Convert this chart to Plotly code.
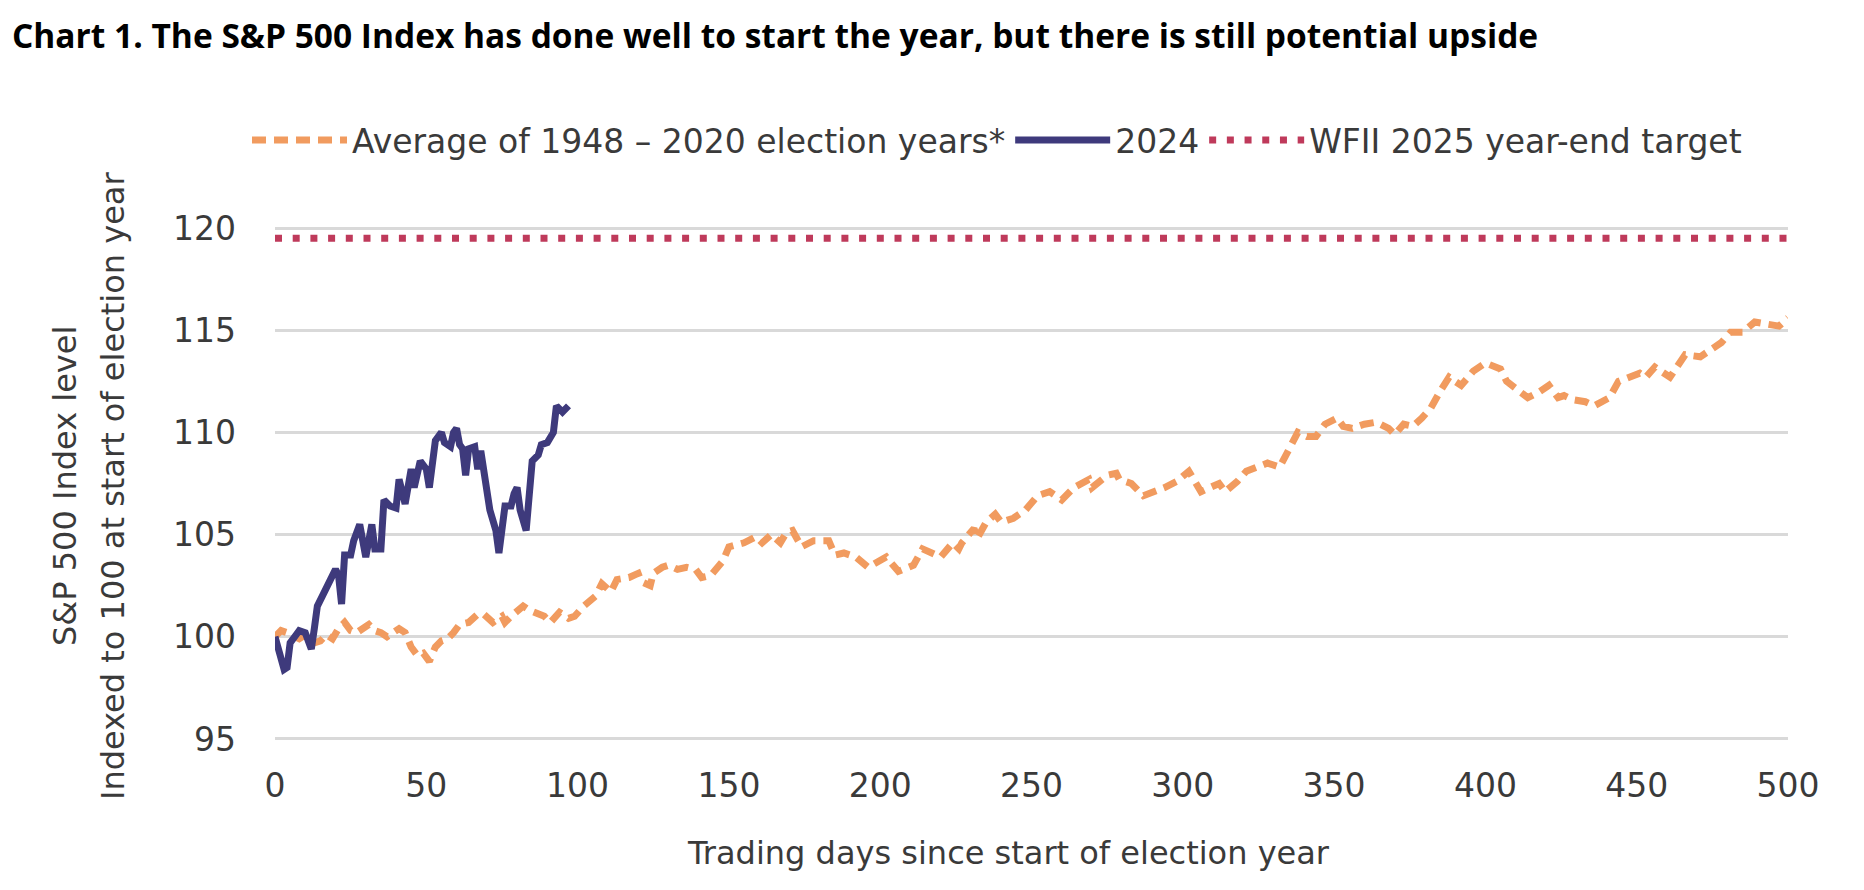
import plotly.graph_objects as go

# average of 1948-2020 election years (trading day, index level)
avg_days = [0, 2, 4, 6, 8, 10, 13, 15, 17, 19, 21, 23, 25, 27, 29, 31, 33, 35, 37, 39,
            41, 43, 45, 47, 49, 51, 53, 55, 57, 59, 61, 64, 67, 69, 72, 75, 76, 78, 82, 84,
            86, 89, 91, 94, 97, 99, 102, 106, 108, 111, 113, 117, 120, 121, 124, 125, 128, 130, 133, 136,
            139, 141, 144, 148, 150, 155, 159, 161, 164, 167, 169, 171, 174, 178, 183, 185, 188, 192, 196, 199,
            202, 206, 211, 214, 218, 220, 224, 226, 227, 231, 232, 235, 238, 240, 244, 248, 252, 256, 260, 264,
            269, 270, 275, 278, 279, 283, 287, 291, 294, 298, 302, 306, 309, 312, 314, 318, 321, 325, 328, 332,
            335, 338, 341, 344, 347, 351, 353, 356, 360, 364, 368, 370, 373, 376, 379, 382, 385, 388, 392, 396,
            400, 405, 407, 411, 414, 418, 421, 424, 426, 429, 433, 436, 441, 444, 448, 451, 453, 456, 461, 463,
            466, 471, 475, 478, 481, 485, 489, 494, 497, 500]
avg_level = [100.0, 100.3, 100.2, 100.0, 99.9, 100.1, 99.7, 99.8, 100.1, 99.9, 100.4, 100.7, 100.3, 100.2, 100.4, 100.6, 100.3, 100.2, 100.0, 100.2,
             100.4, 100.2, 99.5, 99.1, 99.2, 98.8, 99.5, 99.8, 99.9, 100.2, 100.6, 100.7, 101.1, 101.1, 100.7, 101.0, 100.7, 101.0, 101.5, 101.3,
             101.2, 101.0, 100.7, 101.2, 100.9, 101.0, 101.5, 102.0, 102.6, 102.2, 102.8, 102.9, 103.1, 102.7, 102.5, 103.1, 103.4, 103.5, 103.3, 103.4,
             103.3, 102.9, 103.0, 103.7, 104.4, 104.6, 104.9, 104.6, 105.0, 104.6, 105.1, 105.2, 104.4, 104.7, 104.7, 104.0, 104.1, 103.9, 103.4, 103.7,
             103.9, 103.2, 103.5, 104.3, 104.0, 103.9, 104.6, 104.3, 104.6, 105.3, 104.8, 105.6, 106.0, 105.6, 105.8, 106.2, 106.9, 107.1, 106.7, 107.3,
             107.7, 107.3, 107.9, 108.0, 107.7, 107.5, 106.9, 107.1, 107.3, 107.6, 108.1, 107.1, 107.3, 107.5, 107.1, 107.6, 108.1, 108.3, 108.5, 108.3,
             109.1, 110.0, 109.8, 109.8, 110.4, 110.7, 110.3, 110.2, 110.4, 110.5, 110.2, 109.9, 110.4, 110.3, 110.7, 111.2, 112.0, 112.7, 112.3, 113.0,
             113.4, 113.1, 112.5, 112.1, 111.7, 112.0, 112.3, 111.7, 111.8, 111.6, 111.5, 111.3, 111.7, 112.5, 112.7, 112.9, 112.7, 113.2, 112.7, 113.1,
             113.8, 113.7, 114.1, 114.4, 114.9, 114.9, 115.4, 115.3, 115.2, 115.6]

# 2024
y2024_days = [0, 1, 2, 3, 4, 5, 7, 8, 10, 11, 12, 13, 14, 16, 18, 20, 21, 22, 23, 25,
              26, 28, 30, 32, 33, 35, 36, 38, 40, 41, 43, 45, 46, 48, 50, 51, 53, 55, 56, 58,
              59, 60, 61, 62, 63, 64, 66, 67, 68, 71, 73, 74, 76, 78, 79, 80, 81, 83, 85, 87,
              88, 90, 92, 93, 95, 97]
y2024_level = [100.0, 99.5, 98.8, 98.4, 98.5, 99.7, 100.1, 100.3, 100.2, 99.8, 99.4, 100.4, 101.5, 102.1, 102.7, 103.3, 103.0, 101.6, 104.0, 104.0,
               104.7, 105.5, 103.9, 105.5, 104.3, 104.3, 106.7, 106.4, 106.3, 107.7, 106.5, 108.2, 107.3, 108.6, 108.2, 107.3, 109.6, 110.0, 109.5, 109.3,
               110.0, 110.2, 109.4, 109.2, 107.9, 109.2, 109.3, 108.2, 109.1, 106.2, 105.2, 104.1, 106.4, 106.4, 107.0, 107.3, 106.2, 105.2, 108.6, 108.9,
               109.4, 109.5, 110.0, 111.3, 111.0, 111.3]

# WFII 2025 year-end target
target_days = [0, 500]
target_level = [119.5, 119.5]

x_ticks = [0, 50, 100, 150, 200, 250, 300, 350, 400, 450, 500]
y_ticks = [95, 100, 105, 110, 115, 120]

W, H = 1864, 890
ml, mr, mt, mb = 275, 76, 226, 149
pw, ph = W - ml - mr, H - mt - mb
FONT = "DejaVu Sans"
TXT = "#3a3a3a"

fig = go.Figure()
fig.add_trace(go.Scatter(x=avg_days, y=avg_level, mode="lines",
                         name="Average of 1948 \u2013 2020 election years*",
                         line=dict(color="#F19B5F", width=7, dash="14px,8px")))
fig.add_trace(go.Scatter(x=y2024_days, y=y2024_level, mode="lines", name="2024",
                         line=dict(color="#3E3A7C", width=7)))
fig.add_trace(go.Scatter(x=target_days, y=target_level, mode="lines",
                         name="WFII 2025 year-end target",
                         line=dict(color="#BF3A5B", width=7, dash="7px,10.7px")))

def px_x(p):
    return (p - ml) / pw

def px_y(p):
    return (H - mb - p) / ph

fig.update_layout(
    width=W, height=H,
    margin=dict(l=ml, r=mr, t=mt, b=mb),
    paper_bgcolor="white", plot_bgcolor="white",
    title=dict(text="<b>Chart 1. The S&P 500 Index has done well to start the year, but there is still potential upside</b>",
               x=12 / W, xanchor="left", y=1 - 36 / H, yanchor="middle",
               font=dict(family="Open Sans", size=33.5, color="black")),
    legend=dict(orientation="h", x=px_x(247), xanchor="left", y=px_y(140), yanchor="middle",
                font=dict(family=FONT, size=33, color=TXT), itemwidth=95,
                bgcolor="rgba(0,0,0,0)"),
    xaxis=dict(range=[0, 500], tickvals=x_ticks, showgrid=False, zeroline=False, showline=False,
               ticks="", ticklabelstandoff=22, tickfont=dict(family=FONT, size=33, color=TXT)),
    yaxis=dict(range=[94.9, 120.1], tickvals=y_ticks, showgrid=True, gridcolor="#D9D9D9", gridwidth=3,
               zeroline=False, showline=False, ticks="", ticklabelstandoff=38,
               tickfont=dict(family=FONT, size=33, color=TXT)),
    annotations=[
        dict(text="S&P 500 Index level", xref="paper", yref="paper", x=px_x(65), y=px_y(486),
             xanchor="center", yanchor="middle", textangle=-90, showarrow=False,
             font=dict(family=FONT, size=32, color=TXT)),
        dict(text="Indexed to 100 at start of election year", xref="paper", yref="paper",
             x=px_x(113), y=px_y(486), xanchor="center", yanchor="middle", textangle=-90,
             showarrow=False, font=dict(family=FONT, size=32, color=TXT)),
        dict(text="Trading days since start of election year", xref="paper", yref="paper",
             x=px_x(1008), y=px_y(853), xanchor="center", yanchor="middle", showarrow=False,
             font=dict(family=FONT, size=32, color=TXT)),
    ],
)

# page body has a default 8px margin; drop it so the figure fills the window
fig.write_html("out.html", config={"displayModeBar": False},
               post_script="document.body.style.margin='0';")
